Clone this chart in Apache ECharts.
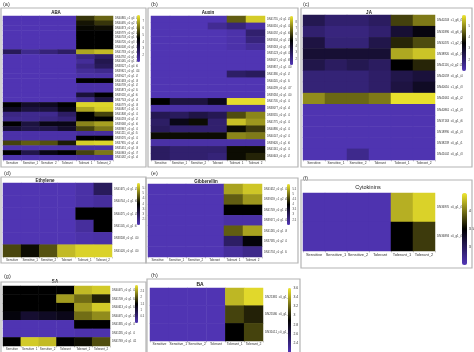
<!DOCTYPE html>
<html>
<head>
<meta charset="utf-8">
<script src="https://cdn.jsdelivr.net/npm/echarts@6/dist/echarts.min.js"></script>
<style>
html, body { margin: 0; padding: 0; background: #fff; }
#chart { width: 474px; height: 352px; }
</style>
</head>
<body>
<div id="chart"></div>
<script>
// sample groups (columns of every heatmap)
const groups = ["Sensitive", "Sensitive_1", "Sensitive_2", "Tolerant", "Tolerant_1", "Tolerant_2"];

// (a) ABA
const abaGenes = ["DN40865_c1_g4_i3", "DN40495_c0_g2_i5", "DN40373_c0_g1_i1", "DN39779_c0_g2_i2", "DN40703_c0_g1_i6",
  "DN40726_c0_g3_i1", "DN40508_c0_g1_i2", "DN41783_c0_g1_i4", "DN34792_c0_g1_i1", "DN41065_c0_g1_i3",
  "DN38527_c1_g4_i6", "DN39921_c0_g1_i14", "DN39027_c0_g1_i2", "DN41683_c0_g1_i3", "DN40739_c0_g1_i2",
  "DN35873_c0_g2_i5", "DN39118_c0_g2_i6", "DN37743_c0_g1_i4", "DN40779_c0_g1_i3", "DN40807_c1_g1_i1",
  "DN41808_c0_g1_i1", "DN40293_c0_g1_i2", "DN39568_c0_g1_i6", "DN38967_c0_g1_i1", "DN41211_c0_g1_i5",
  "DN39276_c0_g1_i1", "DN37955_c0_g1_i4", "DN35451_c0_g1_i3", "DN40963_c0_g1_i7", "DN41082_c0_g1_i4"];
const abaValues = [
  [1.1, 1.1, 1.1, 1.1, 5.3, 6.0], [1.1, 1.1, 1.1, 1.1, 4.8, 5.3], [1.1, 1.1, 1.1, 1.1, 4.6, 4.7],
  [1.1, 1.1, 1.1, 1.1, 4.5, 4.5], [1.1, 1.1, 1.1, 1.1, 4.5, 4.5], [1.1, 1.1, 1.1, 1.1, 4.5, 4.5],
  [1.1, 1.1, 1.1, 1.1, 4.5, 4.5], [2.8, 1.8, 2.2, 2.6, 7.0, 7.3], [1.1, 1.1, 1.1, 1.1, 2.0, 2.6],
  [1.1, 1.1, 1.1, 1.1, 1.6, 3.0], [1.1, 1.1, 1.1, 1.1, 2.0, 2.8], [1.1, 1.1, 1.1, 1.1, 1.6, 1.8],
  [1.1, 1.1, 1.1, 1.1, 1.3, 1.3], [1.1, 1.1, 1.1, 1.1, 4.5, 4.5], [1.1, 1.1, 1.1, 1.1, 1.3, 1.3],
  [1.1, 1.1, 1.1, 1.1, 1.3, 1.3], [1.1, 1.1, 1.1, 1.1, 3.4, 4.5], [1.1, 1.1, 1.1, 1.1, 1.8, 3.2],
  [4.5, 3.7, 3.9, 4.5, 7.7, 7.7], [3.9, 3.3, 3.3, 4.1, 7.0, 7.6], [2.0, 1.8, 1.8, 2.6, 4.5, 5.5],
  [1.8, 1.8, 2.0, 2.2, 4.5, 4.5], [4.5, 3.3, 4.1, 4.1, 6.5, 6.9], [3.5, 3.1, 3.1, 3.7, 5.5, 6.3],
  [1.3, 1.3, 1.3, 1.3, 1.5, 1.5], [1.3, 1.3, 1.3, 1.3, 4.5, 4.5], [5.5, 5.9, 5.7, 4.9, 7.6, 7.7],
  [1.2, 1.2, 1.2, 1.2, 1.3, 1.3], [4.5, 3.1, 4.1, 4.5, 5.5, 6.3], [1.2, 1.2, 1.2, 1.2, 1.3, 1.3]];

// (b) Auxin
const auxinGenes = ["DN41755_c0_g1_i2", "DN40516_c0_g1_i13", "DN40192_c0_g1_i6", "DN39534_c0_g1_i2", "DN39263_c0_g1_i7",
  "DN35123_c0_g6_i1", "DN36071_c0_g1_i8", "DN39857_c1_g1_i10", "DN41380_c0_g1_i2", "DN40245_c0_g1_i5",
  "DN40299_c0_g1_i17", "DN39284_c0_g1_i10", "DN41705_c0_g1_i1", "DN38077_c0_g1_i4", "DN38555_c0_g1_i1",
  "DN41775_c0_g1_i1", "DN40886_c0_g1_i1", "DN40147_c0_g2_i1", "DN39626_c1_g1_i6", "DN41561_c0_g1_i1",
  "DN40643_c0_g1_i2"];
const auxinValues = [
  [1.1, 1.1, 1.1, 1.1, 6.6, 8.5], [1.1, 1.1, 1.1, 1.8, 2.3, 1.5], [1.1, 1.1, 1.1, 1.1, 1.3, 2.6],
  [1.1, 1.1, 1.1, 1.1, 1.3, 2.3], [1.1, 1.1, 1.1, 1.1, 1.3, 1.7], [1.1, 1.1, 1.1, 1.1, 1.1, 1.1],
  [1.1, 1.1, 1.1, 1.1, 1.1, 1.1], [1.1, 1.1, 1.1, 1.1, 1.1, 1.1], [1.1, 1.1, 1.1, 1.1, 2.8, 3.0],
  [1.1, 1.1, 1.1, 1.1, 1.1, 1.1], [1.1, 1.1, 1.1, 1.1, 1.1, 1.1], [1.1, 1.1, 1.1, 1.1, 1.1, 1.1],
  [5.0, 3.6, 3.6, 4.4, 8.8, 8.8], [1.4, 1.4, 1.4, 1.4, 1.4, 1.4], [3.2, 3.0, 3.5, 3.2, 6.3, 7.3],
  [2.8, 4.5, 5.2, 2.6, 8.3, 7.6], [3.0, 2.6, 2.6, 2.6, 5.2, 6.0], [5.2, 5.2, 5.2, 5.2, 7.3, 7.1],
  [1.4, 1.4, 1.4, 1.4, 1.4, 1.4], [2.9, 2.6, 2.6, 2.6, 5.2, 5.2], [2.9, 2.6, 2.6, 2.4, 5.2, 5.6]];

// (c) JA
const jaGenes = ["DN40203_c1_g6_i5", "DN31896_c0_g6_i6", "DN30270_c1_g2_i5", "DN38920_c0_g1_i3", "DN41116_c0_g2_i2",
  "DN42059_c0_g1_i4", "DN40010_c1_g1_i3", "DN41661_c0_g1_i2", "DN40861_c1_g1_i3", "DN37163_c0_g1_i6",
  "DN18990_c0_g1_i3", "DN38239_c0_g1_i1", "DN41002_c0_g1_i3"];
const jaValues = [
  [2.4, 2.0, 2.0, 2.2, 4.2, 4.8], [2.0, 1.8, 1.8, 2.0, 2.8, 3.3], [2.6, 1.9, 1.9, 2.5, 3.9, 4.3],
  [2.8, 2.8, 2.8, 2.8, 5.3, 5.6], [2.5, 2.2, 2.4, 2.2, 3.5, 3.9], [1.9, 1.9, 1.9, 2.1, 2.5, 2.7],
  [1.9, 1.9, 1.9, 2.1, 2.6, 3.0], [5.0, 4.6, 4.6, 4.8, 5.9, 5.9], [1.1, 1.1, 1.1, 1.1, 1.1, 1.1],
  [1.1, 1.1, 1.1, 1.1, 1.1, 1.1], [1.1, 1.1, 1.1, 1.1, 1.1, 1.1], [1.1, 1.1, 1.1, 1.1, 1.1, 1.1],
  [1.1, 1.1, 1.6, 1.1, 1.1, 1.1]];

// (d) Ethylene
const ethyleneGenes = ["DN41675_c0_g1_i2", "DN40744_c1_g1_i6", "DN40275_c0_g1_i2", "DN41145_c0_g1_i6",
  "DN38208_c0_g1_i10", "DN41026_c0_g1_i10"];
const ethyleneValues = [
  [2.05, 2.05, 2.05, 2.05, 2.2, 3.0], [2.05, 2.05, 2.05, 2.05, 2.2, 2.3], [2.05, 2.05, 2.05, 2.05, 4.0, 4.0],
  [2.05, 2.05, 2.05, 2.05, 2.3, 4.0], [2.05, 2.05, 2.05, 2.05, 2.15, 2.2], [4.6, 4.1, 4.7, 5.6, 5.8, 5.8]];

// (e) Gibberellin
const gaGenes = ["DN41652_c0_g1_i1", "DN39559_c1_g2_i4", "DN41749_c0_g1_i2", "DN39571_c0_g1_i16",
  "DN41265_c0_g1_i3", "DN37585_c0_g2_i1", "DN41734_c0_g1_i5"];
const gaValues = [
  [2.05, 2.05, 2.05, 2.05, 5.4, 5.7], [2.05, 2.05, 2.05, 2.05, 4.8, 5.3], [2.05, 2.05, 2.05, 2.05, 4.0, 4.0],
  [2.05, 2.05, 2.05, 2.05, 2.2, 2.2], [2.05, 2.05, 2.05, 2.05, 4.8, 5.4], [2.05, 2.05, 2.05, 2.05, 2.9, 3.9],
  [2.05, 2.05, 2.05, 2.05, 2.3, 2.5]];

// (f) Cytokinins
const ckGenes = ["DN36970_c0_g1_i3", "DN36894_c0_g1_i3"];
const ckValues = [[2.55, 2.55, 2.55, 2.55, 4.25, 4.4], [2.55, 2.55, 2.55, 2.55, 3.5, 3.75]];

// (g) SA
const saGenes = ["DN40475_c0_g1_i10", "DN41709_c0_g1_i5", "DN40613_c0_g1_i5", "DN40475_c0_g1_i4",
  "DN41385_c0_g1_i1", "DN41285_c0_g1_i1", "DN41769_c0_g1_i11"];
const saValues = [
  [1.5, 1.5, 1.5, 1.5, 2.7, 2.8], [1.5, 1.5, 1.5, 2.5, 2.2, 1.7], [1.5, 1.5, 1.5, 1.5, 2.5, 2.8],
  [1.4, 1.1, 1.2, 1.3, 2.2, 2.4], [0.05, 0.05, 0.05, 0.05, 1.5, 1.5], [0.05, 0.05, 0.05, 0.05, 0.1, 0.1],
  [1.5, 2.8, 2.7, 1.5, 1.6, 2.0]];

// (h) BA
const baGenes = ["DN25381_c0_g1_i1", "DN25580_c0_g1_i4", "DN31011_c0_g1_i4"];
const baValues = [[2.22, 2.22, 2.22, 2.22, 3.45, 3.55], [2.22, 2.22, 2.22, 2.22, 3.1, 3.0], [2.22, 2.22, 2.22, 2.22, 2.9, 3.1]];

const palette = ["#5236b8", "#000000", "#f2e92e"];

const panels = [
  { tag: "(a)", title: "ABA", genes: abaGenes, values: abaValues, min: 1, max: 8, step: 1,
    grid: [3, 16, 110, 144], bar: [137, 15, 3, 47], box: [1, 8, 145, 159], tagAt: [3, 1], titleAt: [56, 10], fs: 2.6, xfs: 3, tfs: 4.5, showMax: false },
  { tag: "(b)", title: "Auxin", genes: auxinGenes, values: auxinValues, min: 1, max: 9, step: 1,
    grid: [151, 16, 114, 144], bar: [290, 16, 3, 49], box: [148, 8, 150, 159], tagAt: [151, 1], titleAt: [208, 10], fs: 2.6, xfs: 3, tfs: 4.5, showMax: false },
  { tag: "(c)", title: "JA", genes: jaGenes, values: jaValues, min: 1, max: 6, step: 1,
    grid: [303, 15, 132, 145], bar: [462, 15, 4, 56], box: [301, 8, 171, 159], tagAt: [303, 1], titleAt: [369, 10], fs: 2.9, xfs: 3.3, tfs: 4.5, showMax: false },
  { tag: "(d)", title: "Ethylene", genes: ethyleneGenes, values: ethyleneValues, min: 2, max: 6, step: 0.5,
    grid: [3, 183, 109, 74], bar: [137, 183, 3, 42], box: [1, 177, 145, 86], tagAt: [4, 170], titleAt: [45, 178], fs: 2.6, xfs: 3, tfs: 4.5, showMax: false },
  { tag: "(e)", title: "Gibberellin", genes: gaGenes, values: gaValues, min: 2, max: 6, step: 0.5,
    grid: [148, 184, 114, 73], bar: [287, 184, 3, 41], box: [146, 178, 152, 85], tagAt: [151, 170], titleAt: [206, 179], fs: 2.6, xfs: 3, tfs: 4.5, showMax: false },
  { tag: "(f)", title: "Cytokinins", genes: ckGenes, values: ckValues, min: 2.5, max: 4.5, step: 0.5,
    grid: [303, 193, 132, 58], bar: [462, 193, 5, 72], box: [301, 180, 171, 88], tagAt: [303, 175], titleAt: [368, 184], fs: 2.9, xfs: 4, tfs: 5.5, bfs: 4, showMax: false, plainTitle: true },
  { tag: "(g)", title: "SA", genes: saGenes, values: saValues, min: 0, max: 3, step: 0.5,
    grid: [3, 286, 107, 60], bar: [135, 285, 3, 38], box: [1, 282, 145, 75], tagAt: [4, 273], titleAt: [55, 279], fs: 2.6, xfs: 3, tfs: 4.5, showMax: false },
  { tag: "(h)", title: "BA", genes: baGenes, values: baValues, min: 2.2, max: 3.6, step: 0.2,
    grid: [150, 288, 113, 53], bar: [288, 288, 3, 65], box: [147, 279, 153, 78], tagAt: [151, 272], titleAt: [200, 282], fs: 2.9, xfs: 3.4, tfs: 5, bfs: 3.4, showMax: true }
];

const font = "Liberation Sans";
const grids = [], xAxes = [], yAxes = [], series = [], visualMaps = [], graphics = [];

panels.forEach((p, i) => {
  const g = 2 * i;
  grids.push({ left: p.grid[0], top: p.grid[1], width: p.grid[2], height: p.grid[3] });
  grids.push({ left: p.bar[0] + p.bar[2], top: p.bar[1], width: 1, height: p.bar[3] });

  xAxes.push({
    type: "category", gridIndex: g, data: groups,
    axisLine: { show: false },
    axisTick: { show: true, length: 1.5, lineStyle: { color: "#999", width: 0.5 } },
    axisLabel: { interval: 0, fontSize: p.xfs, margin: 2, color: "#333", fontFamily: font }
  });
  xAxes.push({ type: "value", gridIndex: g + 1, show: false });

  yAxes.push({
    type: "category", gridIndex: g, data: p.genes, inverse: true, position: "right",
    axisLine: { show: false }, axisTick: { show: false },
    axisLabel: { interval: 0, fontSize: p.fs, margin: 2, color: "#333", fontFamily: font }
  });
  yAxes.push({
    type: "value", gridIndex: g + 1, position: "right", min: p.min, max: p.max, interval: p.step,
    axisLine: { show: false }, axisTick: { show: false }, splitLine: { show: false },
    axisLabel: { fontSize: p.bfs || 2.6, margin: 1.5, color: "#333", fontFamily: font,
      showMinLabel: false, showMaxLabel: p.showMax }
  });

  const data = [];
  p.values.forEach((row, r) => row.forEach((v, c) => data.push([c, r, v])));
  series.push({
    type: "heatmap", xAxisIndex: g, yAxisIndex: g, data: data,
    itemStyle: { borderWidth: 0 }, emphasis: { disabled: true }, progressive: 0
  });

  visualMaps.push({
    type: "continuous", seriesIndex: i, min: p.min, max: p.max, calculable: false,
    left: p.bar[0], top: p.bar[1], itemWidth: p.bar[2], itemHeight: p.bar[3],
    padding: 0, text: null, hoverLink: false, inRange: { color: palette }
  });

  graphics.push({
    type: "rect", shape: { x: p.box[0], y: p.box[1], width: p.box[2], height: p.box[3] },
    style: { fill: "none", stroke: "#b4b4b4", lineWidth: 1.2 }, z: 10
  });
  graphics.push({
    type: "text", x: p.tagAt[0], y: p.tagAt[1],
    style: { text: p.tag, font: "5.5px " + font, fill: "#333" }
  });
  graphics.push({
    type: "text", x: p.titleAt[0], y: p.titleAt[1],
    style: { text: p.title, textAlign: "center",
      font: (p.plainTitle ? "" : "bold ") + p.tfs + "px " + font, fill: "#222" }
  });
});

const myChart = echarts.init(document.getElementById("chart"));
myChart.setOption({
  animation: false,
  backgroundColor: "#fff",
  grid: grids,
  xAxis: xAxes,
  yAxis: yAxes,
  visualMap: visualMaps,
  series: series,
  graphic: graphics
});
</script>
</body>
</html>
